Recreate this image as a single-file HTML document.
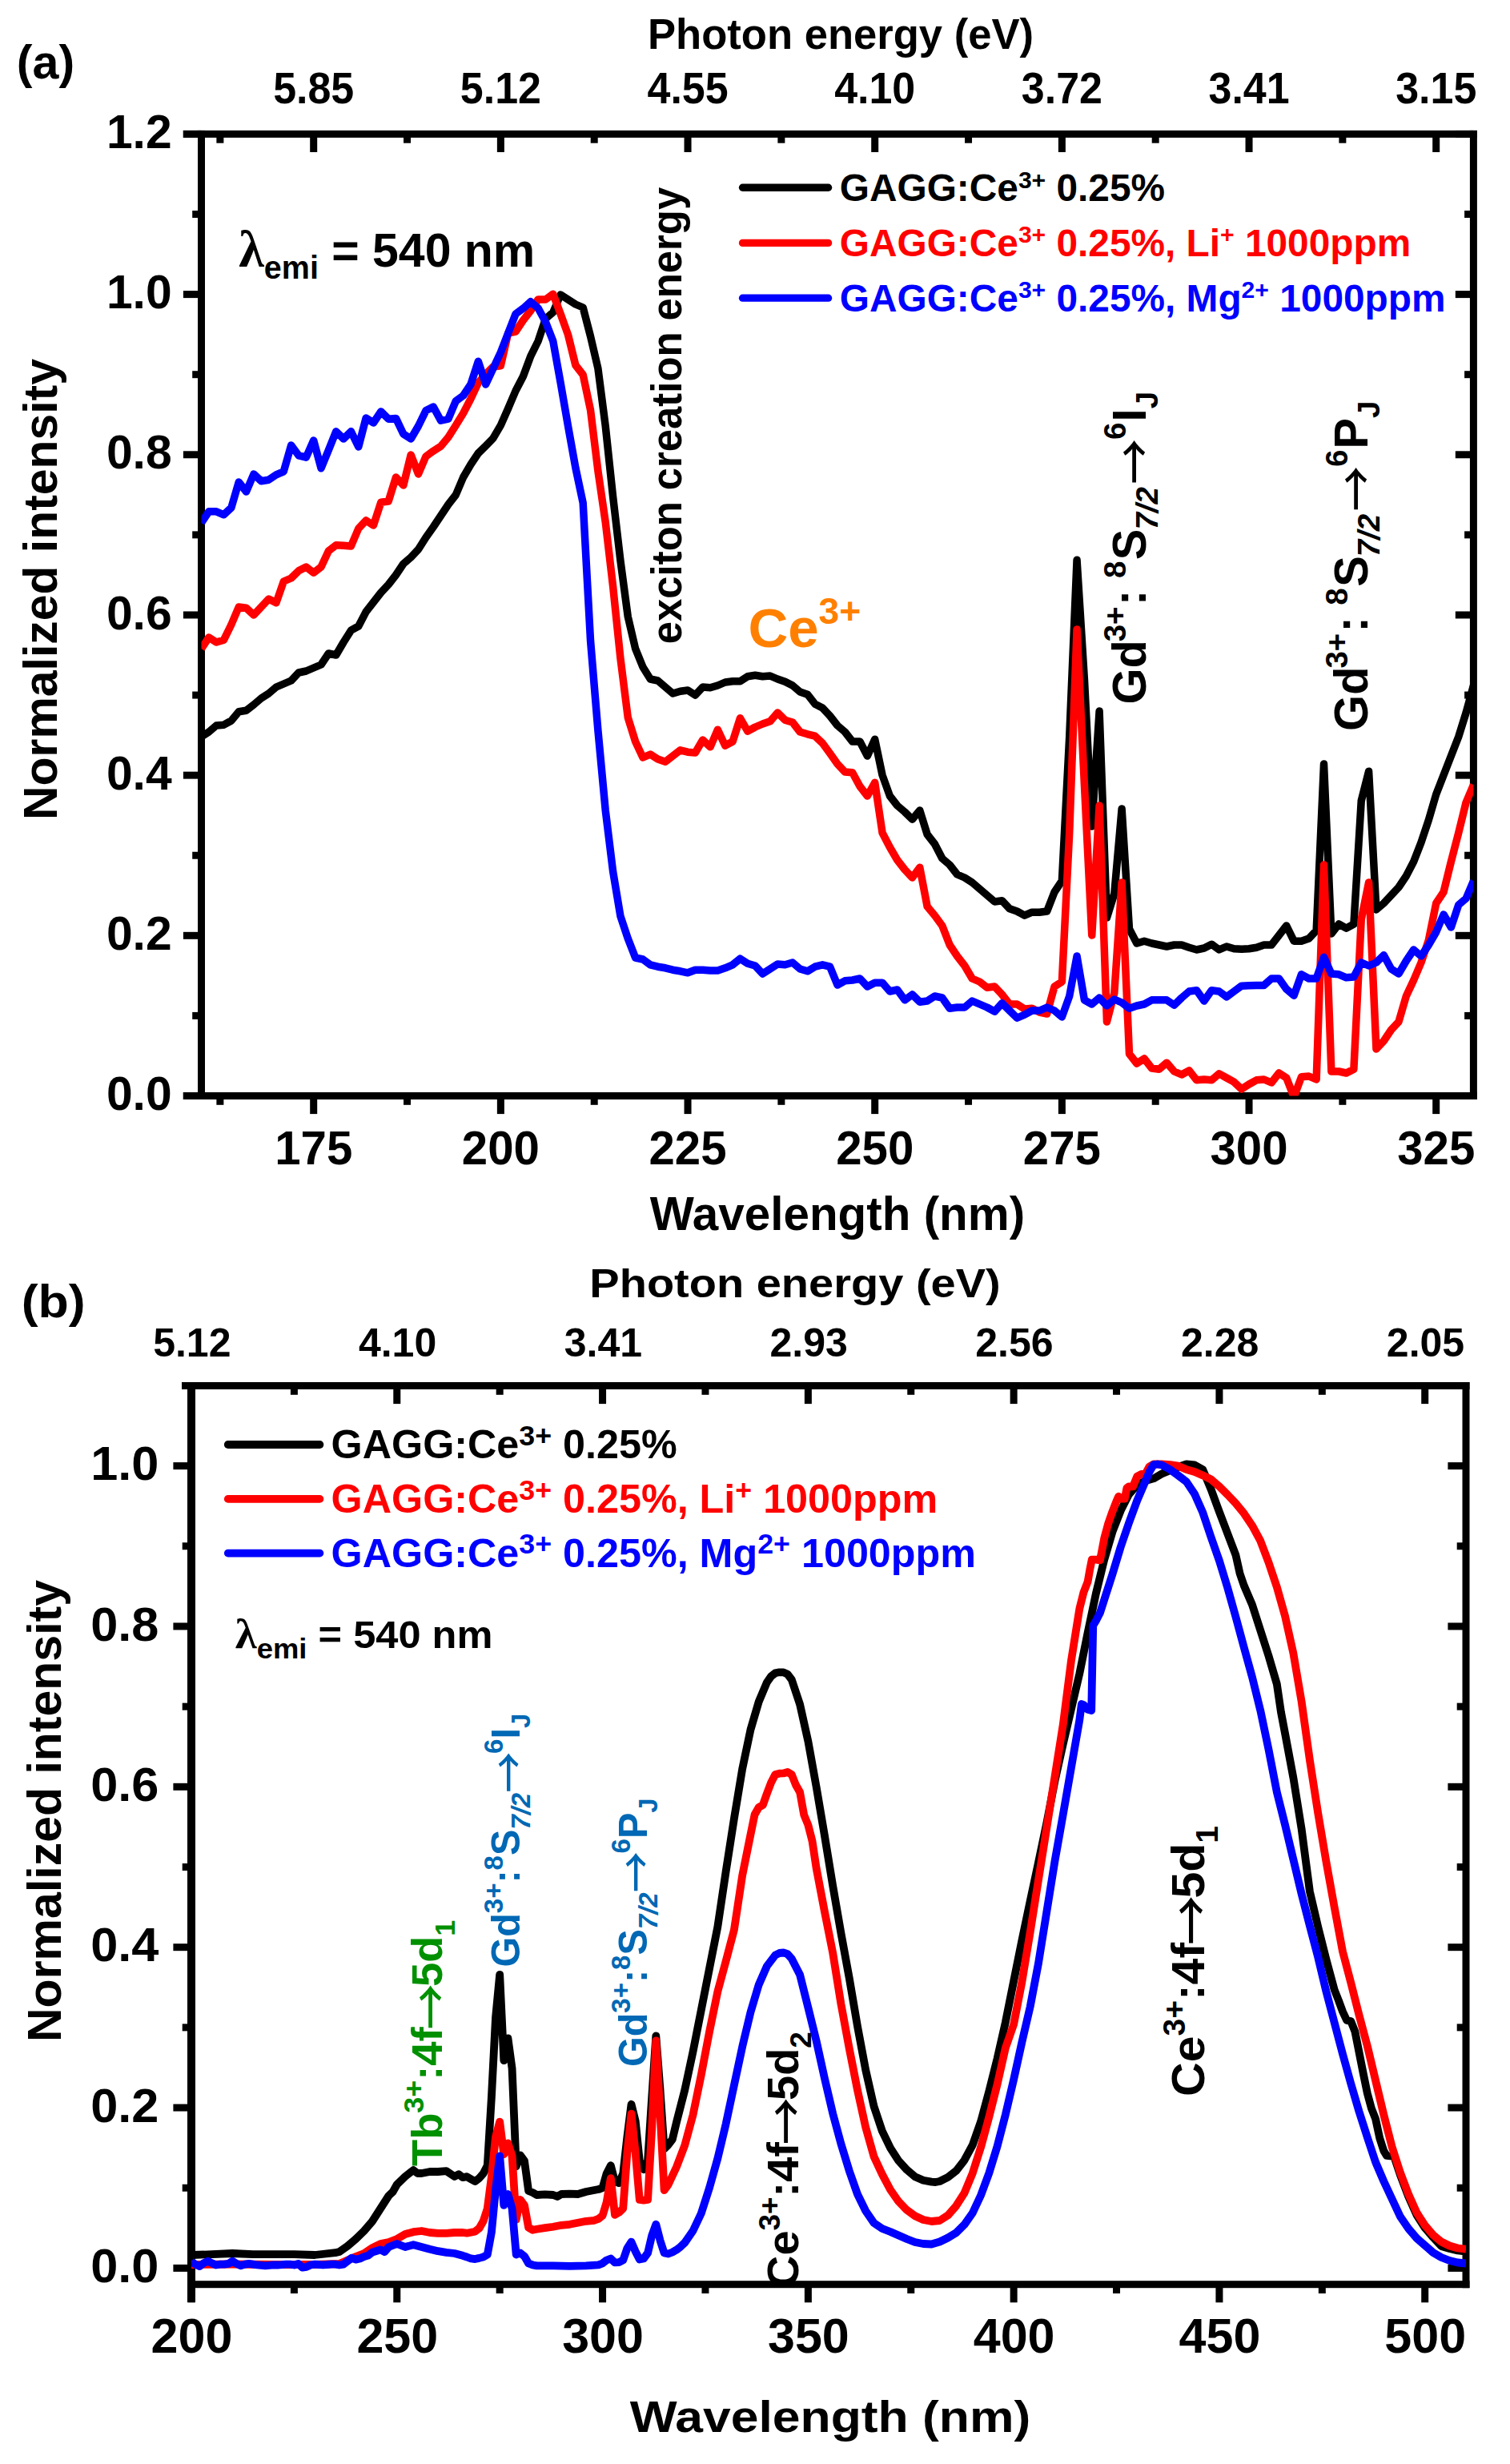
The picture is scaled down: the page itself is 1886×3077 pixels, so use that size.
<!DOCTYPE html>
<html lang="en"><head><meta charset="utf-8"><title>Excitation spectra of GAGG:Ce</title>
<style>html,body{margin:0;padding:0;background:#fff}svg{display:block}text{font-family:"Liberation Sans",sans-serif;font-weight:bold;white-space:pre}polyline{fill:none;stroke-linejoin:round;stroke-linecap:butt}</style>
</head><body>
<svg width="1886" height="3077" viewBox="0 0 1886 3077">
<rect width="1886" height="3077" fill="#fff"/>
<g id="axesA">
<rect x="228.8" y="162.9" width="1616.1" height="9" fill="#000"/>
<rect x="228.8" y="1364" width="1616.1" height="9" fill="#000"/>
<rect x="247" y="162.9" width="9" height="1210.1" fill="#000"/>
<rect x="1835.9" y="162.9" width="9" height="1210.1" fill="#000"/>
<rect x="387.2" y="1368.5" width="9" height="22.6" fill="#000"/>
<rect x="387.2" y="167.4" width="9" height="22.6" fill="#000"/>
<rect x="620.87" y="1368.5" width="9" height="22.6" fill="#000"/>
<rect x="620.87" y="167.4" width="9" height="22.6" fill="#000"/>
<rect x="854.54" y="1368.5" width="9" height="22.6" fill="#000"/>
<rect x="854.54" y="167.4" width="9" height="22.6" fill="#000"/>
<rect x="1088.2" y="1368.5" width="9" height="22.6" fill="#000"/>
<rect x="1088.2" y="167.4" width="9" height="22.6" fill="#000"/>
<rect x="1321.87" y="1368.5" width="9" height="22.6" fill="#000"/>
<rect x="1321.87" y="167.4" width="9" height="22.6" fill="#000"/>
<rect x="1555.54" y="1368.5" width="9" height="22.6" fill="#000"/>
<rect x="1555.54" y="167.4" width="9" height="22.6" fill="#000"/>
<rect x="1789.21" y="1368.5" width="9" height="22.6" fill="#000"/>
<rect x="1789.21" y="167.4" width="9" height="22.6" fill="#000"/>
<rect x="270.37" y="1368.5" width="9" height="11.3" fill="#000"/>
<rect x="270.37" y="167.4" width="9" height="11.3" fill="#000"/>
<rect x="504.03" y="1368.5" width="9" height="11.3" fill="#000"/>
<rect x="504.03" y="167.4" width="9" height="11.3" fill="#000"/>
<rect x="737.7" y="1368.5" width="9" height="11.3" fill="#000"/>
<rect x="737.7" y="167.4" width="9" height="11.3" fill="#000"/>
<rect x="971.37" y="1368.5" width="9" height="11.3" fill="#000"/>
<rect x="971.37" y="167.4" width="9" height="11.3" fill="#000"/>
<rect x="1205.04" y="1368.5" width="9" height="11.3" fill="#000"/>
<rect x="1205.04" y="167.4" width="9" height="11.3" fill="#000"/>
<rect x="1438.7" y="1368.5" width="9" height="11.3" fill="#000"/>
<rect x="1438.7" y="167.4" width="9" height="11.3" fill="#000"/>
<rect x="1672.37" y="1368.5" width="9" height="11.3" fill="#000"/>
<rect x="1672.37" y="167.4" width="9" height="11.3" fill="#000"/>
<rect x="228.9" y="1364" width="22.6" height="9" fill="#000"/>
<rect x="1817.8" y="1364" width="22.6" height="9" fill="#000"/>
<rect x="228.9" y="1163.82" width="22.6" height="9" fill="#000"/>
<rect x="1817.8" y="1163.82" width="22.6" height="9" fill="#000"/>
<rect x="228.9" y="963.64" width="22.6" height="9" fill="#000"/>
<rect x="1817.8" y="963.64" width="22.6" height="9" fill="#000"/>
<rect x="228.9" y="763.46" width="22.6" height="9" fill="#000"/>
<rect x="1817.8" y="763.46" width="22.6" height="9" fill="#000"/>
<rect x="228.9" y="563.28" width="22.6" height="9" fill="#000"/>
<rect x="1817.8" y="563.28" width="22.6" height="9" fill="#000"/>
<rect x="228.9" y="363.1" width="22.6" height="9" fill="#000"/>
<rect x="1817.8" y="363.1" width="22.6" height="9" fill="#000"/>
<rect x="228.9" y="162.92" width="22.6" height="9" fill="#000"/>
<rect x="1817.8" y="162.92" width="22.6" height="9" fill="#000"/>
<rect x="240.2" y="1263.91" width="11.3" height="9" fill="#000"/>
<rect x="1829.1" y="1263.91" width="11.3" height="9" fill="#000"/>
<rect x="240.2" y="1063.73" width="11.3" height="9" fill="#000"/>
<rect x="1829.1" y="1063.73" width="11.3" height="9" fill="#000"/>
<rect x="240.2" y="863.55" width="11.3" height="9" fill="#000"/>
<rect x="1829.1" y="863.55" width="11.3" height="9" fill="#000"/>
<rect x="240.2" y="663.37" width="11.3" height="9" fill="#000"/>
<rect x="1829.1" y="663.37" width="11.3" height="9" fill="#000"/>
<rect x="240.2" y="463.19" width="11.3" height="9" fill="#000"/>
<rect x="1829.1" y="463.19" width="11.3" height="9" fill="#000"/>
<rect x="240.2" y="263.01" width="11.3" height="9" fill="#000"/>
<rect x="1829.1" y="263.01" width="11.3" height="9" fill="#000"/>
</g>
<clipPath id="clipA"><rect x="251.5" y="167.4" width="1588.9" height="1201.1"/></clipPath>
<g id="curvesA" clip-path="url(#clipA)">
<polyline points="251.5,920 260.85,914 270.19,906 279.54,905.2 288.89,900 298.23,888.8 307.58,887.2 316.93,880 326.27,872 335.62,866 344.97,858 354.31,854 363.66,850 373.01,840 382.35,838 391.7,834 401.05,830 410.39,816 419.74,818 429.09,802 438.43,787.2 447.78,782 457.13,764 466.47,752 475.82,740 485.17,730 494.51,718 503.86,704 513.21,696 522.55,686 531.9,671.2 541.25,658 550.59,644 559.94,630 569.29,618 578.63,596 587.98,580 597.33,566 606.67,556.8 616.02,547.2 625.37,531.2 634.71,510 644.06,488 653.41,470 662.75,444.8 672.1,426 681.45,398 690.79,390 700.14,368 709.49,374 718.84,380 728.18,384 737.53,420 746.88,460 756.22,532 765.57,620 774.92,700 784.26,770 793.61,810 802.96,833 812.3,848 821.65,850 831,858 840.34,866 849.69,863.2 859.04,862 868.38,868 877.73,858 887.08,858.8 896.42,856 905.77,852 915.12,850.8 924.46,850.8 933.81,844.8 943.16,843.2 952.5,844.8 961.85,844 971.2,848 980.54,851.2 989.89,856 999.24,864 1008.58,867.2 1017.93,879.2 1027.28,884 1036.62,894 1045.97,906 1055.32,914 1064.66,926 1074.01,926 1083.36,944 1092.7,923.2 1102.05,968 1111.4,994 1120.74,1006 1130.09,1014 1139.44,1023.2 1148.78,1012 1158.13,1042 1167.48,1054 1176.82,1072 1186.17,1080 1195.52,1092 1204.86,1096 1214.21,1102 1223.56,1110 1232.9,1118 1242.25,1126 1251.6,1124.8 1260.94,1134.8 1270.29,1138 1279.64,1143.2 1288.98,1139.2 1298.33,1139.2 1307.68,1138 1317.02,1114 1326.37,1100 1335.72,920 1345.06,699.2 1354.41,848 1363.76,1032 1373.1,888 1382.45,1146 1391.8,1116 1401.14,1010 1410.49,1160 1419.84,1178 1429.18,1175.2 1438.53,1178 1447.88,1180 1457.22,1182 1466.57,1180 1475.92,1180 1485.26,1183.2 1494.61,1186 1503.96,1184 1513.3,1179.2 1522.65,1186 1532,1182 1541.34,1184.8 1550.69,1185.2 1560.04,1184.8 1569.38,1183.2 1578.73,1180 1588.08,1180 1597.42,1168 1606.77,1156 1616.12,1175.2 1625.46,1175.2 1634.81,1172 1644.16,1162 1653.51,954 1662.85,1166 1672.2,1154 1681.55,1159.2 1690.89,1154 1700.24,1000 1709.59,963.2 1718.93,1136 1728.28,1128 1737.63,1118 1746.97,1108 1756.32,1094 1765.67,1076 1775.01,1052 1784.36,1024 1793.71,992 1803.05,968 1812.4,944 1821.75,920 1831.09,890 1840.44,856" stroke="#000" stroke-width="9.5"/>
<polyline points="251.5,810 260.85,796 270.19,802 279.54,799.2 288.89,780 298.23,758 307.58,759.2 316.93,768 326.27,758 335.62,748 344.97,752.8 354.31,726 363.66,722 373.01,712.8 382.35,708 391.7,715.2 401.05,708 410.39,688 419.74,680.8 429.09,681.2 438.43,682 447.78,660 457.13,650 466.47,656 475.82,627.2 485.17,626 494.51,596 503.86,606 513.21,568 522.55,592 531.9,570 541.25,563.2 550.59,557.2 559.94,546 569.29,531.2 578.63,516 587.98,498 597.33,478 606.67,467.2 616.02,458 625.37,456.8 634.71,416 644.06,414 653.41,400 662.75,388 672.1,374 681.45,374 690.79,367.2 700.14,392 709.49,418 718.84,456 728.18,468 737.53,512 746.88,588 756.22,652 765.57,732 774.92,822 784.26,896 793.61,926 802.96,946 812.3,942 821.65,948 831,951.2 840.34,944 849.69,936.8 859.04,939.2 868.38,940 877.73,924 887.08,932.8 896.42,911.2 905.77,931.2 915.12,926 924.46,896.8 933.81,913.2 943.16,908 952.5,904 961.85,900.8 971.2,890 980.54,899.2 989.89,902 999.24,914 1008.58,916.8 1017.93,919.2 1027.28,928 1036.62,940.8 1045.97,954 1055.32,964 1064.66,964.8 1074.01,982 1083.36,994 1092.7,977.2 1102.05,1040 1111.4,1058 1120.74,1074 1130.09,1086 1139.44,1096 1148.78,1083.2 1158.13,1132 1167.48,1143.2 1176.82,1156 1186.17,1180 1195.52,1194 1204.86,1206 1214.21,1222 1223.56,1226 1232.9,1233.2 1242.25,1232 1251.6,1242 1260.94,1254 1270.29,1254 1279.64,1260 1288.98,1259.2 1298.33,1264 1307.68,1266 1317.02,1232 1326.37,1226 1335.72,1040 1345.06,786 1354.41,980 1363.76,1168 1373.1,1006 1382.45,1276 1391.8,1240 1401.14,1102 1410.49,1316 1419.84,1328 1429.18,1322 1438.53,1334 1447.88,1335.2 1457.22,1327.2 1466.57,1338 1475.92,1342 1485.26,1336.8 1494.61,1348.8 1503.96,1348 1513.3,1348.8 1522.65,1340.8 1532,1346 1541.34,1351.2 1550.69,1360 1560.04,1354 1569.38,1348.8 1578.73,1348 1588.08,1352 1597.42,1340 1606.77,1346 1616.12,1370 1625.46,1344.8 1634.81,1344 1644.16,1348 1653.51,1080 1662.85,1338 1672.2,1338 1681.55,1340 1690.89,1335.2 1700.24,1148 1709.59,1102 1718.93,1310 1728.28,1300 1737.63,1286 1746.97,1276 1756.32,1244 1765.67,1224 1775.01,1202 1784.36,1174 1793.71,1128 1803.05,1114 1812.4,1076 1821.75,1040 1831.09,1002 1840.44,980" stroke="#f00" stroke-width="9.5"/>
<polyline points="251.5,653 260.85,638.8 270.19,638.8 279.54,642.8 288.89,634 298.23,602 307.58,614 316.93,592 326.27,600.8 335.62,599.2 344.97,592.8 354.31,588.8 363.66,556 373.01,568.8 382.35,571.2 391.7,550 401.05,584.8 410.39,562 419.74,538.8 429.09,548 438.43,538.8 447.78,558 457.13,522 466.47,528 475.82,514 485.17,523.2 494.51,522.4 503.86,542 513.21,548 522.55,532 531.9,512.8 541.25,508 550.59,525.2 559.94,523.2 569.29,500.8 578.63,494 587.98,480 597.33,451.2 606.67,480 616.02,460 625.37,440 634.71,416 644.06,392 653.41,385.2 662.75,376.8 672.1,384.8 681.45,402 690.79,426 700.14,478 709.49,532 718.84,584 728.18,628 737.53,800 746.88,912 756.22,1012 765.57,1088 774.92,1144 784.26,1172 793.61,1196 802.96,1198 812.3,1204.8 821.65,1207.2 831,1208.8 840.34,1211.2 849.69,1212.8 859.04,1214.8 868.38,1211.2 877.73,1211.2 887.08,1212 896.42,1212 905.77,1208.8 915.12,1204.8 924.46,1197.2 933.81,1203.2 943.16,1206 952.5,1216 961.85,1210 971.2,1204 980.54,1204.8 989.89,1202 999.24,1210 1008.58,1212.8 1017.93,1207.2 1027.28,1204.8 1036.62,1207.2 1045.97,1230 1055.32,1224.8 1064.66,1224 1074.01,1222 1083.36,1232 1092.7,1227.2 1102.05,1227.2 1111.4,1238 1120.74,1236 1130.09,1248.8 1139.44,1242 1148.78,1251.2 1158.13,1250 1167.48,1244 1176.82,1246 1186.17,1259.2 1195.52,1258 1204.86,1258 1214.21,1250 1223.56,1254 1232.9,1258 1242.25,1263.2 1251.6,1252.8 1260.94,1262 1270.29,1271.2 1279.64,1267.2 1288.98,1262 1298.33,1262 1307.68,1258 1317.02,1262 1326.37,1270 1335.72,1244 1345.06,1194 1354.41,1248.8 1363.76,1254 1373.1,1246 1382.45,1256 1391.8,1248 1401.14,1252 1410.49,1259.2 1419.84,1256 1429.18,1254 1438.53,1248.8 1447.88,1248.8 1457.22,1248.8 1466.57,1255.2 1475.92,1246 1485.26,1238 1494.61,1236.8 1503.96,1250 1513.3,1236.8 1522.65,1238 1532,1244.8 1541.34,1238 1550.69,1231.2 1560.04,1230.8 1569.38,1230.4 1578.73,1230.4 1588.08,1222 1597.42,1222 1606.77,1235.2 1616.12,1243.2 1625.46,1216.8 1634.81,1222 1644.16,1222 1653.51,1195.2 1662.85,1216 1672.2,1216.8 1681.55,1220.8 1690.89,1220 1700.24,1202 1709.59,1206 1718.93,1202 1728.28,1192.8 1737.63,1210 1746.97,1216 1756.32,1200 1765.67,1186 1775.01,1194 1784.36,1180 1793.71,1164 1803.05,1142 1812.4,1158 1821.75,1130 1831.09,1122 1840.44,1100" stroke="#00f" stroke-width="9.5"/>
</g>
<g id="labelsA">
<text id="a_top0" transform="translate(391.7 129.2) scale(0.9500 1)" font-size="54.7" text-anchor="middle">5.85</text>
<text id="a_bot0" transform="translate(391.7 1454.2) scale(0.9700 1)" font-size="60" text-anchor="middle">175</text>
<text id="a_top1" transform="translate(625.37 129.2) scale(0.9500 1)" font-size="54.7" text-anchor="middle">5.12</text>
<text id="a_bot1" transform="translate(625.37 1454.2) scale(0.9700 1)" font-size="60" text-anchor="middle">200</text>
<text id="a_top2" transform="translate(859.04 129.2) scale(0.9500 1)" font-size="54.7" text-anchor="middle">4.55</text>
<text id="a_bot2" transform="translate(859.04 1454.2) scale(0.9700 1)" font-size="60" text-anchor="middle">225</text>
<text id="a_top3" transform="translate(1092.7 129.2) scale(0.9500 1)" font-size="54.7" text-anchor="middle">4.10</text>
<text id="a_bot3" transform="translate(1092.7 1454.2) scale(0.9700 1)" font-size="60" text-anchor="middle">250</text>
<text id="a_top4" transform="translate(1326.37 129.2) scale(0.9500 1)" font-size="54.7" text-anchor="middle">3.72</text>
<text id="a_bot4" transform="translate(1326.37 1454.2) scale(0.9700 1)" font-size="60" text-anchor="middle">275</text>
<text id="a_top5" transform="translate(1560.04 129.2) scale(0.9500 1)" font-size="54.7" text-anchor="middle">3.41</text>
<text id="a_bot5" transform="translate(1560.04 1454.2) scale(0.9700 1)" font-size="60" text-anchor="middle">300</text>
<text id="a_top6" transform="translate(1793.71 129.2) scale(0.9500 1)" font-size="54.7" text-anchor="middle">3.15</text>
<text id="a_bot6" transform="translate(1793.71 1454.2) scale(0.9700 1)" font-size="60" text-anchor="middle">325</text>
<text id="a_y0" transform="translate(214.6 1386.1) scale(0.9800 1)" font-size="60" text-anchor="end">0.0</text>
<text id="a_y1" transform="translate(214.6 1185.92) scale(0.9800 1)" font-size="60" text-anchor="end">0.2</text>
<text id="a_y2" transform="translate(214.6 985.74) scale(0.9800 1)" font-size="60" text-anchor="end">0.4</text>
<text id="a_y3" transform="translate(214.6 785.56) scale(0.9800 1)" font-size="60" text-anchor="end">0.6</text>
<text id="a_y4" transform="translate(214.6 585.38) scale(0.9800 1)" font-size="60" text-anchor="end">0.8</text>
<text id="a_y5" transform="translate(214.6 385.2) scale(0.9800 1)" font-size="60" text-anchor="end">1.0</text>
<text id="a_y6" transform="translate(214.6 185.02) scale(0.9800 1)" font-size="60" text-anchor="end">1.2</text>
<text id="a_tag" transform="translate(20.8 98.2)" font-size="59.2">(a)</text>
<text id="a_toptitle" transform="translate(1050 61) scale(0.9650 1)" font-size="54.5" text-anchor="middle">Photon energy (eV)</text>
<text id="a_xtitle" transform="translate(1046 1535.6) scale(0.9950 1)" font-size="58.7" text-anchor="middle">Wavelength (nm)</text>
<text id="a_ytitle" transform="translate(70.7 736) rotate(-90) scale(0.9900 1)" font-size="59.5" text-anchor="middle">Normalized intensity</text>
<line x1="927.5" y1="234.25" x2="1034.6" y2="234.25" stroke="#000" stroke-width="9.3" stroke-linecap="round"/>
<text id="a_leg0" transform="translate(1048.8 251.3)" font-size="47.8"><tspan>GAGG:Ce</tspan><tspan dy="-16.63" font-size="30.11">3+</tspan><tspan dy="16.63"> 0.25%</tspan></text>
<line x1="927.5" y1="303.4" x2="1034.6" y2="303.4" stroke="#f00" stroke-width="9.3" stroke-linecap="round"/>
<text id="a_leg1" transform="translate(1048.8 320.1)" font-size="47.8" fill="#f00"><tspan>GAGG:Ce</tspan><tspan dy="-16.63" font-size="30.11">3+</tspan><tspan dy="16.63"> 0.25%, Li</tspan><tspan dy="-16.63" font-size="30.11">+</tspan><tspan dy="16.63"> 1000ppm</tspan></text>
<line x1="927.5" y1="372.2" x2="1034.6" y2="372.2" stroke="#00f" stroke-width="9.3" stroke-linecap="round"/>
<text id="a_leg2" transform="translate(1048.8 388.7)" font-size="47.8" fill="#00f"><tspan>GAGG:Ce</tspan><tspan dy="-16.63" font-size="30.11">3+</tspan><tspan dy="16.63"> 0.25%, Mg</tspan><tspan dy="-16.63" font-size="30.11">2+</tspan><tspan dy="16.63"> 1000ppm</tspan></text>
<text id="a_lam" transform="translate(298.2 332.8) scale(0.9830 1)" font-size="60"><tspan font-family="Liberation Serif,serif" font-size="65.4">λ</tspan><tspan dy="15" font-size="40.2">emi</tspan><tspan dy="-15"> = 540 nm</tspan></text>
<text id="a_exc" transform="translate(850.7 519) rotate(-90) scale(0.9500 1)" font-size="53.5" text-anchor="middle">exciton creation energy</text>
<text id="a_ce" transform="translate(934.4 808.2)" font-size="69" fill="#ff8000"><tspan>Ce</tspan><tspan dy="-28.98" font-size="46.23">3+</tspan></text>
<text id="a_gd1" transform="translate(1430.5 879.6) rotate(-90) scale(0.9890 1)" font-size="58.5"><tspan>Gd</tspan><tspan dy="-24.57" dx="-2" font-size="38.9">3+</tspan><tspan dy="24.57" dx="1.5">: </tspan><tspan dy="-24.57" dx="-1.5" font-size="38.9">8</tspan><tspan dy="24.57" dx="1.5">S</tspan><tspan dy="15.21" dx="-1" font-size="38.9" font-style="italic">7/2</tspan><tspan dy="-8.19" dx="3.5" font-family="Noto Sans CJK SC,Liberation Sans,sans-serif" font-weight="500" font-size="57.33">→</tspan><tspan dy="-31.59" dx="-1" font-size="38.9">6</tspan><tspan dy="24.57" dx="1.2">I</tspan><tspan dy="15.21" font-size="38.9">J</tspan></text>
<text id="a_gd2" transform="translate(1707.9 912.7) rotate(-90) scale(0.9860 1)" font-size="58.5"><tspan>Gd</tspan><tspan dy="-24.57" dx="-2" font-size="38.9">3+</tspan><tspan dy="24.57" dx="1.5">: </tspan><tspan dy="-24.57" dx="-1.5" font-size="38.9">8</tspan><tspan dy="24.57" dx="1.5">S</tspan><tspan dy="15.21" dx="-1" font-size="38.9" font-style="italic">7/2</tspan><tspan dy="-8.19" dx="3.5" font-family="Noto Sans CJK SC,Liberation Sans,sans-serif" font-weight="500" font-size="57.33">→</tspan><tspan dy="-31.59" dx="-1" font-size="38.9">6</tspan><tspan dy="24.57" dx="1.2">P</tspan><tspan dy="15.21" font-size="38.9">J</tspan></text>
</g>
<g id="axesB">
<rect x="227" y="1726" width="1608.5" height="9" fill="#000"/>
<rect x="234" y="2848.2" width="1601.5" height="9" fill="#000"/>
<rect x="234" y="1726" width="10" height="1149.1" fill="#000"/>
<rect x="1826.5" y="1726" width="9" height="1131.2" fill="#000"/>
<rect x="234.5" y="2852.7" width="9" height="22.6" fill="#000"/>
<rect x="234.5" y="1730.5" width="9" height="22.6" fill="#000"/>
<rect x="491.28" y="2852.7" width="9" height="22.6" fill="#000"/>
<rect x="491.28" y="1730.5" width="9" height="22.6" fill="#000"/>
<rect x="748.07" y="2852.7" width="9" height="22.6" fill="#000"/>
<rect x="748.07" y="1730.5" width="9" height="22.6" fill="#000"/>
<rect x="1004.86" y="2852.7" width="9" height="22.6" fill="#000"/>
<rect x="1004.86" y="1730.5" width="9" height="22.6" fill="#000"/>
<rect x="1261.64" y="2852.7" width="9" height="22.6" fill="#000"/>
<rect x="1261.64" y="1730.5" width="9" height="22.6" fill="#000"/>
<rect x="1518.42" y="2852.7" width="9" height="22.6" fill="#000"/>
<rect x="1518.42" y="1730.5" width="9" height="22.6" fill="#000"/>
<rect x="1775.21" y="2852.7" width="9" height="22.6" fill="#000"/>
<rect x="1775.21" y="1730.5" width="9" height="22.6" fill="#000"/>
<rect x="362.89" y="2852.7" width="9" height="11.3" fill="#000"/>
<rect x="362.89" y="1730.5" width="9" height="11.3" fill="#000"/>
<rect x="619.68" y="2852.7" width="9" height="11.3" fill="#000"/>
<rect x="619.68" y="1730.5" width="9" height="11.3" fill="#000"/>
<rect x="876.46" y="2852.7" width="9" height="11.3" fill="#000"/>
<rect x="876.46" y="1730.5" width="9" height="11.3" fill="#000"/>
<rect x="1133.25" y="2852.7" width="9" height="11.3" fill="#000"/>
<rect x="1133.25" y="1730.5" width="9" height="11.3" fill="#000"/>
<rect x="1390.03" y="2852.7" width="9" height="11.3" fill="#000"/>
<rect x="1390.03" y="1730.5" width="9" height="11.3" fill="#000"/>
<rect x="1646.82" y="2852.7" width="9" height="11.3" fill="#000"/>
<rect x="1646.82" y="1730.5" width="9" height="11.3" fill="#000"/>
<rect x="216.4" y="2827.9" width="22.6" height="9" fill="#000"/>
<rect x="1808.4" y="2827.9" width="22.6" height="9" fill="#000"/>
<rect x="216.4" y="2627.54" width="22.6" height="9" fill="#000"/>
<rect x="1808.4" y="2627.54" width="22.6" height="9" fill="#000"/>
<rect x="216.4" y="2427.18" width="22.6" height="9" fill="#000"/>
<rect x="1808.4" y="2427.18" width="22.6" height="9" fill="#000"/>
<rect x="216.4" y="2226.82" width="22.6" height="9" fill="#000"/>
<rect x="1808.4" y="2226.82" width="22.6" height="9" fill="#000"/>
<rect x="216.4" y="2026.46" width="22.6" height="9" fill="#000"/>
<rect x="1808.4" y="2026.46" width="22.6" height="9" fill="#000"/>
<rect x="216.4" y="1826.1" width="22.6" height="9" fill="#000"/>
<rect x="1808.4" y="1826.1" width="22.6" height="9" fill="#000"/>
<rect x="227.7" y="2727.72" width="11.3" height="9" fill="#000"/>
<rect x="1819.7" y="2727.72" width="11.3" height="9" fill="#000"/>
<rect x="227.7" y="2527.36" width="11.3" height="9" fill="#000"/>
<rect x="1819.7" y="2527.36" width="11.3" height="9" fill="#000"/>
<rect x="227.7" y="2327" width="11.3" height="9" fill="#000"/>
<rect x="1819.7" y="2327" width="11.3" height="9" fill="#000"/>
<rect x="227.7" y="2126.64" width="11.3" height="9" fill="#000"/>
<rect x="1819.7" y="2126.64" width="11.3" height="9" fill="#000"/>
<rect x="227.7" y="1926.28" width="11.3" height="9" fill="#000"/>
<rect x="1819.7" y="1926.28" width="11.3" height="9" fill="#000"/>
</g>
<clipPath id="clipB"><rect x="239" y="1730.5" width="1592" height="1122.2"/></clipPath>
<g id="curvesB" clip-path="url(#clipB)">
<polyline points="239,2816 264.68,2815.2 290.36,2814 316.04,2815.2 341.71,2815.2 367.39,2815.2 393.07,2816 418.75,2813.2 423.89,2812 434.16,2804.8 444.43,2796 454.7,2786 464.97,2774 475.24,2758 485.51,2742 490.65,2737.2 495.78,2728 506.06,2718 516.33,2710 521.46,2714 526.6,2714 536.87,2712 547.14,2712 557.41,2711.2 567.68,2718 572.82,2715.2 577.96,2719.2 583.09,2718.16 588.23,2721.14 593.36,2724.12 598.5,2720.15 603.63,2714.19 608.77,2704.26 613.91,2618.82 619.04,2519.48 624.18,2465.83 629.31,2573.12 634.45,2545.3 639.58,2583.06 644.72,2705.25 649.86,2691.34 654.99,2698.3 660.13,2736.05 665.26,2738.03 670.4,2741.01 680.67,2740.42 690.94,2741.01 696.08,2743 701.21,2740.02 711.48,2739.62 721.76,2740.02 732.03,2737.04 742.3,2735.05 747.43,2734.06 752.57,2732.07 757.71,2714.19 762.84,2704.26 767.98,2724.12 773.11,2726.11 778.25,2714.19 783.38,2668.49 788.52,2627.76 793.66,2648.62 798.79,2698.3 803.93,2709.22 809.06,2698.3 814.2,2618.82 819.33,2542.32 824.47,2608.89 829.61,2683.39 834.74,2678.43 839.88,2671.47 845.01,2650 855.28,2610 865.56,2562 875.83,2510 886.1,2458 896.37,2406 906.64,2337 916.91,2271 927.18,2209 937.46,2160 947.73,2125 958,2100.7 963.13,2093.4 968.27,2089.3 973.41,2088.3 978.54,2088.4 983.68,2090.7 988.81,2097.5 999.08,2128.4 1009.36,2174.5 1019.63,2231.5 1029.9,2292.1 1040.17,2354.9 1050.44,2414.1 1060.71,2470 1070.98,2530.3 1081.25,2585.1 1091.53,2630.4 1101.8,2661.1 1112.07,2682.3 1122.34,2698.3 1132.61,2709.6 1142.88,2718.2 1153.15,2722.7 1163.43,2724.6 1168.56,2725 1173.7,2724 1183.97,2718.9 1194.24,2710.9 1204.51,2697.7 1214.78,2678.7 1225.05,2649.5 1235.33,2611.5 1245.6,2570.6 1255.87,2525.3 1266.14,2474 1276.41,2423 1286.68,2374 1296.95,2326 1307.23,2277 1317.5,2224 1327.77,2178 1338.04,2134 1348.31,2090 1358.58,2039 1368.85,1990 1379.13,1948 1389.4,1913 1399.67,1886.6 1409.94,1866.4 1420.21,1854.5 1430.48,1849.3 1440.75,1846.4 1451.03,1840.6 1461.3,1836.3 1471.57,1832 1481.84,1828.5 1492.11,1829.4 1502.38,1835.3 1512.65,1860 1522.92,1888 1533.2,1915 1543.47,1942 1548.6,1965 1553.74,1980 1564.01,2004 1574.28,2036 1584.55,2068 1594.82,2103 1599.96,2138 1605.1,2165 1615.37,2220 1625.64,2284 1635.91,2362 1646.18,2406 1656.45,2447 1666.72,2485 1671.86,2498 1677,2512 1682.13,2523 1687.27,2524 1692.4,2537 1697.54,2563 1702.67,2589 1707.81,2614 1712.95,2633 1718.08,2646 1723.22,2670 1728.35,2686 1731.95,2692 1741.19,2693 1748.9,2716 1759.17,2743 1769.44,2766 1779.71,2782 1789.98,2794 1800.25,2805 1810.52,2808 1820.8,2810.5 1831.07,2811.7" stroke="#000" stroke-width="9.8"/>
<polyline points="239,2828 290.36,2827.5 341.71,2828 393.07,2828 423.89,2827 444.43,2818 454.7,2814 464.97,2807.2 475.24,2802 485.51,2800 495.78,2796 506.06,2790 516.33,2787.2 526.6,2786 536.87,2788 547.14,2788.8 557.41,2788.8 567.68,2788 577.96,2788 583.09,2788.7 588.23,2787.71 593.36,2786.71 598.5,2782.74 603.63,2773.8 608.77,2757.9 613.91,2718.16 619.04,2668.49 624.18,2649.62 629.31,2690.35 634.45,2676.44 639.58,2692.33 644.72,2771.81 649.86,2746.97 654.99,2753.93 660.13,2781.74 665.26,2784.72 670.4,2783.73 680.67,2782.14 690.94,2780.75 701.21,2778.76 711.48,2777.77 721.76,2775.78 732.03,2773.8 742.3,2772.8 747.43,2770.82 752.57,2766.84 757.71,2749.95 762.84,2720.15 767.98,2765.85 773.11,2762.87 778.25,2757.9 783.38,2688.36 788.52,2639.68 793.66,2688.36 798.79,2746.97 803.93,2747.57 809.06,2746.97 814.2,2658.56 819.33,2548.29 824.47,2638.69 829.61,2735.05 834.74,2728 845.01,2706 855.28,2679 865.56,2641 875.83,2591 886.1,2537 896.37,2487 906.64,2449 916.91,2410 927.18,2342 937.46,2291 942.59,2266 947.73,2257 952.86,2254 958,2239.5 963.13,2226 968.27,2216 973.41,2214.7 978.54,2214.4 983.68,2213 988.81,2216 993.95,2229 999.08,2238 1004.22,2266.5 1009.36,2279 1014.49,2299 1019.63,2333 1029.9,2387 1040.17,2438.6 1050.44,2502.6 1060.71,2558 1070.98,2610 1081.25,2656.7 1091.53,2693.2 1101.8,2715.1 1112.07,2734.5 1122.34,2749.2 1132.61,2759.8 1142.88,2767.2 1153.15,2772 1163.43,2774 1173.7,2773 1183.97,2766.4 1194.24,2754.7 1204.51,2738.6 1214.78,2713.8 1225.05,2681.6 1235.33,2643.6 1245.6,2603 1255.87,2557.4 1266.14,2528 1276.41,2475 1286.68,2413 1296.95,2348 1307.23,2283.2 1317.5,2218.4 1327.77,2153.6 1338.04,2073.2 1348.31,2008.9 1353.45,1988.5 1358.58,1975.3 1361.15,1960.7 1363.72,1947.6 1368.85,1947.6 1373.99,1948.3 1379.13,1921.3 1384.26,1902.3 1389.4,1887.7 1394.53,1874.5 1397.1,1868.7 1399.67,1871.6 1404.8,1871.6 1407.37,1858.4 1409.94,1856.3 1415.08,1856.3 1420.21,1843.8 1425.35,1840.9 1430.48,1840.9 1435.62,1831.4 1440.75,1828.5 1451.03,1828.5 1461.3,1829.2 1471.57,1830.7 1481.84,1835.1 1492.11,1838 1502.38,1842.4 1512.65,1847.5 1522.92,1856.3 1533.2,1866.5 1543.47,1877.4 1553.74,1889.9 1564.01,1905.2 1574.28,1924.2 1584.55,1951.2 1594.82,1981.9 1605.1,2018.4 1615.37,2064.5 1625.64,2125 1635.91,2198 1646.18,2264 1656.45,2325 1666.72,2382 1677,2437 1687.27,2476 1697.54,2516.5 1707.81,2555 1718.08,2598 1728.35,2641 1738.62,2681 1748.9,2713 1759.17,2740 1769.44,2763 1779.71,2779 1789.98,2791 1800.25,2799.5 1810.52,2804.5 1820.8,2807.5 1831.07,2808.7" stroke="#f00" stroke-width="9.8"/>
<polyline points="239,2824.52 244.14,2827.69 249.27,2830.08 254.41,2826.1 259.54,2823.72 264.68,2826.1 269.81,2828.49 274.95,2827.69 280.09,2827.69 285.22,2826.9 290.36,2823.72 295.49,2826.9 300.63,2829.28 305.76,2827.69 310.9,2826.9 316.04,2827.69 321.17,2828.49 326.31,2828.97 331.44,2829.28 336.58,2828.97 341.71,2828.49 346.85,2828.49 351.99,2828.17 357.12,2827.69 362.26,2827.69 367.39,2828.49 372.53,2826.9 377.66,2831.67 382.8,2830.87 387.94,2828.49 393.07,2827.69 398.21,2828.01 403.34,2828.49 408.48,2828.01 413.61,2827.69 418.75,2827.69 423.89,2828.49 429.02,2827.69 434.16,2823.72 439.29,2819.75 444.43,2821.65 449.56,2820.54 454.7,2818.16 459.84,2816.57 464.97,2812.59 470.11,2811 475.24,2809.41 480.38,2812 485.51,2806 495.78,2802 506.06,2806 516.33,2803.2 526.6,2806 536.87,2808.8 547.14,2811.2 557.41,2812.8 567.68,2814 577.96,2816.8 583.09,2818.5 588.23,2820.49 593.36,2821.08 598.5,2819.89 603.63,2818.5 608.77,2815.52 613.91,2787.71 619.04,2734.06 624.18,2692.33 629.31,2753.93 634.45,2740.02 639.58,2757.9 644.72,2815.52 649.86,2813.53 654.99,2817.51 660.13,2826.45 665.26,2828.44 670.4,2829.43 690.94,2829.43 711.48,2829.83 732.03,2829.43 747.43,2828.44 752.57,2826.45 757.71,2822.48 762.84,2820.49 767.98,2825.46 773.11,2825.06 778.25,2822.48 783.38,2807.57 788.52,2799.63 793.66,2811.55 798.79,2821.48 803.93,2820.49 809.06,2813.53 814.2,2791.68 819.33,2777.77 824.47,2797.64 829.61,2813.53 834.74,2814.53 839.88,2812.54 845.01,2809.56 850.15,2805.59 855.28,2800.62 865.56,2785.72 875.83,2764 886.1,2732 896.37,2695.4 906.64,2652.3 916.91,2604.1 927.18,2555.9 937.46,2512.8 947.73,2478.4 958,2455.1 968.27,2441.6 973.41,2439 978.54,2438.5 983.68,2440.2 988.81,2446 999.08,2466 1009.36,2507 1019.63,2548.6 1029.9,2595.3 1040.17,2639.2 1050.44,2677.2 1060.71,2710.8 1070.98,2740 1081.25,2761 1091.53,2776 1101.8,2783 1112.07,2787 1122.34,2791.5 1132.61,2796 1142.88,2800 1153.15,2802 1163.43,2802.5 1173.7,2799.5 1183.97,2794.5 1194.24,2788.3 1204.51,2778.1 1214.78,2763.5 1225.05,2741.5 1235.33,2713.8 1245.6,2680.2 1255.87,2640.7 1266.14,2596.9 1276.41,2550.1 1286.68,2506 1296.95,2452 1307.23,2388 1317.5,2324 1327.77,2266 1338.04,2207 1348.31,2148 1350.88,2128 1353.45,2129 1358.58,2134.8 1363.2,2136 1365.26,2030 1368.85,2024 1373.99,2014 1379.13,1998 1389.4,1966 1399.67,1932 1409.94,1902 1420.21,1874 1430.48,1850 1435.62,1838 1440.75,1829.2 1445.89,1828.5 1451.03,1829.5 1461.3,1835 1471.57,1842.5 1481.84,1850.4 1492.11,1865.8 1502.38,1889.1 1512.65,1919.8 1522.92,1949 1533.2,1982.6 1543.47,2019.2 1553.74,2057.2 1564.01,2094.4 1574.28,2136.1 1584.55,2185 1594.82,2238 1605.1,2279 1615.37,2322 1625.64,2365 1635.91,2405 1646.18,2444 1656.45,2487 1666.72,2526 1677,2565 1687.27,2602 1697.54,2637 1707.81,2669 1718.08,2700 1728.35,2724 1738.62,2746 1748.9,2768 1759.17,2783 1769.44,2795 1779.71,2804 1789.98,2813 1800.25,2819 1810.52,2823 1820.8,2825.5 1831.07,2826.5" stroke="#00f" stroke-width="9.8"/>
</g>
<g id="labelsB">
<text id="b_top0" transform="translate(239.8 1694.2)" font-size="50" text-anchor="middle">5.12</text>
<text id="b_bot0" transform="translate(239.5 2937.6)" font-size="61" text-anchor="middle">200</text>
<text id="b_top1" transform="translate(496.58 1694.2)" font-size="50" text-anchor="middle">4.10</text>
<text id="b_bot1" transform="translate(496.28 2937.6)" font-size="61" text-anchor="middle">250</text>
<text id="b_top2" transform="translate(753.37 1694.2)" font-size="50" text-anchor="middle">3.41</text>
<text id="b_bot2" transform="translate(753.07 2937.6)" font-size="61" text-anchor="middle">300</text>
<text id="b_top3" transform="translate(1010.15 1694.2)" font-size="50" text-anchor="middle">2.93</text>
<text id="b_bot3" transform="translate(1009.86 2937.6)" font-size="61" text-anchor="middle">350</text>
<text id="b_top4" transform="translate(1266.94 1694.2)" font-size="50" text-anchor="middle">2.56</text>
<text id="b_bot4" transform="translate(1266.64 2937.6)" font-size="61" text-anchor="middle">400</text>
<text id="b_top5" transform="translate(1523.72 1694.2)" font-size="50" text-anchor="middle">2.28</text>
<text id="b_bot5" transform="translate(1523.42 2937.6)" font-size="61" text-anchor="middle">450</text>
<text id="b_top6" transform="translate(1780.51 1694.2)" font-size="50" text-anchor="middle">2.05</text>
<text id="b_bot6" transform="translate(1780.21 2937.6)" font-size="61" text-anchor="middle">500</text>
<text id="b_y0" transform="translate(198.4 2850.1) scale(1.0300 1)" font-size="59.5" text-anchor="end">0.0</text>
<text id="b_y1" transform="translate(198.4 2649.74) scale(1.0300 1)" font-size="59.5" text-anchor="end">0.2</text>
<text id="b_y2" transform="translate(198.4 2449.38) scale(1.0300 1)" font-size="59.5" text-anchor="end">0.4</text>
<text id="b_y3" transform="translate(198.4 2249.02) scale(1.0300 1)" font-size="59.5" text-anchor="end">0.6</text>
<text id="b_y4" transform="translate(198.4 2048.66) scale(1.0300 1)" font-size="59.5" text-anchor="end">0.8</text>
<text id="b_y5" transform="translate(198.4 1848.3) scale(1.0300 1)" font-size="59.5" text-anchor="end">1.0</text>
<text id="b_tag" transform="translate(26.7 1645.2) scale(1.0900 1)" font-size="57.5">(b)</text>
<text id="b_toptitle" transform="translate(993 1619.6) scale(1.1200 1)" font-size="50" text-anchor="middle">Photon energy (eV)</text>
<text id="b_xtitle" transform="translate(1037 3036.9) scale(1.1250 1)" font-size="55.5" text-anchor="middle">Wavelength (nm)</text>
<text id="b_ytitle" transform="translate(76 2261.5) rotate(-90)" font-size="59" text-anchor="middle">Normalized intensity</text>
<line x1="284.8" y1="1804" x2="399.4" y2="1804" stroke="#000" stroke-width="9.8" stroke-linecap="round"/>
<text id="b_leg0" transform="translate(413.6 1821.3)" font-size="50.3"><tspan>GAGG:Ce</tspan><tspan dy="-16.6" font-size="35.71">3+</tspan><tspan dy="16.6"> 0.25%</tspan></text>
<line x1="284.8" y1="1871.9" x2="399.4" y2="1871.9" stroke="#f00" stroke-width="9.8" stroke-linecap="round"/>
<text id="b_leg1" transform="translate(413.6 1889.1)" font-size="50.3" fill="#f00"><tspan>GAGG:Ce</tspan><tspan dy="-16.6" font-size="35.71">3+</tspan><tspan dy="16.6"> 0.25%, Li</tspan><tspan dy="-16.6" font-size="35.71">+</tspan><tspan dy="16.6"> 1000ppm</tspan></text>
<line x1="284.8" y1="1939.6" x2="399.4" y2="1939.6" stroke="#00f" stroke-width="9.8" stroke-linecap="round"/>
<text id="b_leg2" transform="translate(413.6 1957)" font-size="50.3" fill="#00f"><tspan>GAGG:Ce</tspan><tspan dy="-16.6" font-size="35.71">3+</tspan><tspan dy="16.6"> 0.25%, Mg</tspan><tspan dy="-16.6" font-size="35.71">2+</tspan><tspan dy="16.6"> 1000ppm</tspan></text>
<text id="b_lam" transform="translate(293.8 2058.1) scale(1.0430 1)" font-size="48.5"><tspan font-family="Liberation Serif,serif" font-size="52.62">λ</tspan><tspan dy="13.1" font-size="34.92">emi</tspan><tspan dy="-13.1"> = 540 nm</tspan></text>
<text id="b_tb" transform="translate(552 2705) rotate(-90) scale(0.9960 1)" font-size="54.5" fill="#009000"><tspan>Tb</tspan><tspan dy="-22.89" font-size="35.97">3+</tspan><tspan dy="22.89">:4f</tspan><tspan dy="6.54" dx="-3" font-family="Noto Sans CJK SC,Liberation Sans,sans-serif" font-weight="500" font-size="57.23">→</tspan><tspan dy="-6.54" dx="-3.5">5d</tspan><tspan dy="15.8" font-size="35.97">1</tspan></text>
<text id="b_gd1" transform="translate(648.6 2456.5) rotate(-90) scale(0.9800 1)" font-size="49.5" fill="#0068b4"><tspan>Gd</tspan><tspan dy="-20.79" font-size="33.66">3+</tspan><tspan dy="20.79">:</tspan><tspan dy="-20.79" font-size="33.66">8</tspan><tspan dy="20.79">S</tspan><tspan dy="13.86" font-size="33.66" font-style="italic">7/2</tspan><tspan dy="-7.92" font-family="Noto Sans CJK SC,Liberation Sans,sans-serif" font-weight="500" font-size="51.98">→</tspan><tspan dy="-26.73" dx="-2" font-size="33.66">6</tspan><tspan dy="20.79">I</tspan><tspan dy="13.86" font-size="33.66">J</tspan></text>
<text id="b_gd2" transform="translate(807.6 2581) rotate(-90) scale(0.9800 1)" font-size="49.5" fill="#0068b4"><tspan>Gd</tspan><tspan dy="-20.79" font-size="33.66">3+</tspan><tspan dy="20.79">:</tspan><tspan dy="-20.79" font-size="33.66">8</tspan><tspan dy="20.79">S</tspan><tspan dy="13.86" font-size="33.66" font-style="italic">7/2</tspan><tspan dy="-7.92" font-family="Noto Sans CJK SC,Liberation Sans,sans-serif" font-weight="500" font-size="51.98">→</tspan><tspan dy="-26.73" dx="-2" font-size="33.66">6</tspan><tspan dy="20.79">P</tspan><tspan dy="13.86" font-size="33.66">J</tspan></text>
<text id="b_ce2" transform="translate(997.3 2857) rotate(-90) scale(1.0170 1)" font-size="55"><tspan>Ce</tspan><tspan dy="-23.1" font-size="36.3">3+</tspan><tspan dy="23.1">:4f</tspan><tspan dy="6.6" dx="-3" font-family="Noto Sans CJK SC,Liberation Sans,sans-serif" font-weight="500" font-size="57.75">→</tspan><tspan dy="-6.6" dx="-3.5">5d</tspan><tspan dy="15.95" font-size="36.3">2</tspan></text>
<text id="b_ce1" transform="translate(1504.2 2618) rotate(-90) scale(1.0180 1)" font-size="58"><tspan>Ce</tspan><tspan dy="-24.36" font-size="38.28">3+</tspan><tspan dy="24.36">:4f</tspan><tspan dy="6.96" dx="-3" font-family="Noto Sans CJK SC,Liberation Sans,sans-serif" font-weight="500" font-size="60.9">→</tspan><tspan dy="-6.96" dx="-3.5">5d</tspan><tspan dy="16.82" font-size="38.28">1</tspan></text>
</g>
</svg></body></html>
